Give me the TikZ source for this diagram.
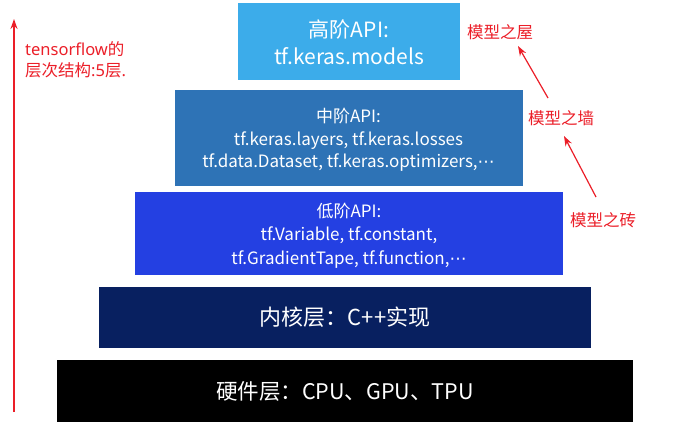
\documentclass[tikz,border=0pt]{standalone}
\usepackage{fontspec}
\setmainfont{Noto Sans CJK SC}
\newfontfamily\cjk{Noto Sans CJK SC}
\newfontfamily\lat{Noto Sans}
\newfontfamily\dv{DejaVu Sans}
\usetikzlibrary{arrows.meta}
\definecolor{c1}{RGB}{60,172,234}
\definecolor{c2}{RGB}{46,115,182}
\definecolor{c3}{RGB}{36,64,226}
\definecolor{c4}{RGB}{8,32,96}
\definecolor{c5}{RGB}{0,0,0}
\definecolor{ared}{RGB}{235,30,40}
\newcommand{\mydots}{{\dv ⋯}}
\tikzset{
  layerbox/.style={draw=none, inner sep=0pt, align=center, text=white},
  boxtext/.style={align=center, text=white, inner sep=0pt},
  redlabel/.style={text=ared, inner sep=0pt, font=\cjk\fontsize{16.5}{21}\selectfont},
  redarrow/.style={draw=ared, line width=1.6pt, -{Stealth[length=10pt,width=7pt]}},
}
\begin{document}
\begin{tikzpicture}[x=1pt,y=-1pt]
\useasboundingbox (0,0) rectangle (692,430);
% layers
\node[layerbox, fill=c1, minimum width=222pt, minimum height=77pt,
  font=\cjk\fontsize{21}{27}\selectfont] (l1) at (349,42) {高阶API:\\tf.keras.models};
\node[layerbox, fill=c2, minimum width=348pt, minimum height=96pt] (l2) at (348.5,138) {};
\node[boxtext, font=\cjk\fontsize{17}{22.5}\selectfont] (t2) at (348.5,140) {中阶API:\\tf.keras.layers, tf.keras.losses\\tf.data.Dataset, tf.keras.optimizers,\mydots};
\node[layerbox, fill=c3, minimum width=428pt, minimum height=83pt] (l3) at (349,233.5) {};
\node[boxtext, font=\cjk\fontsize{17}{23.5}\selectfont] (t3) at (349,235.5) {低阶API:\\tf.Variable, tf.constant,\\tf.GradientTape, tf.function,\mydots};
\node[layerbox, fill=c4, minimum width=492pt, minimum height=61pt,
  font=\cjk\fontsize{22}{24}\selectfont] (l4) at (345,317.5) {内核层：C++实现};
\node[layerbox, fill=c5, minimum width=576pt, minimum height=62pt,
  font=\cjk\fontsize{21.5}{24}\selectfont] (l5) at (345,391) {硬件层：CPU、GPU、TPU};
% left arrow and text
\coordinate (abot) at (14,412);
\coordinate (atop) at (14,19);
\draw[redarrow] (abot) -- (atop);
\node[redlabel, anchor=west, align=left] (tl) at (25,60) {{\lat tensorflow}的\\层次结构{\lat :5}层{\lat .}};
% right labels
\node[redlabel, anchor=west] (m1) at (467,32) {模型之屋};
\node[redlabel, anchor=west] (m2) at (528,118) {模型之墙};
\node[redlabel, anchor=west] (m3) at (570,220) {模型之砖};
\coordinate (s1) at (548,98);
\coordinate (e1) at (518,46);
\coordinate (s2) at (596,197);
\coordinate (e2) at (564,136);
\draw[redarrow, line width=1.2pt] (s1) -- (e1);
\draw[redarrow, line width=1.2pt] (s2) -- (e2);
\end{tikzpicture}
\end{document}
